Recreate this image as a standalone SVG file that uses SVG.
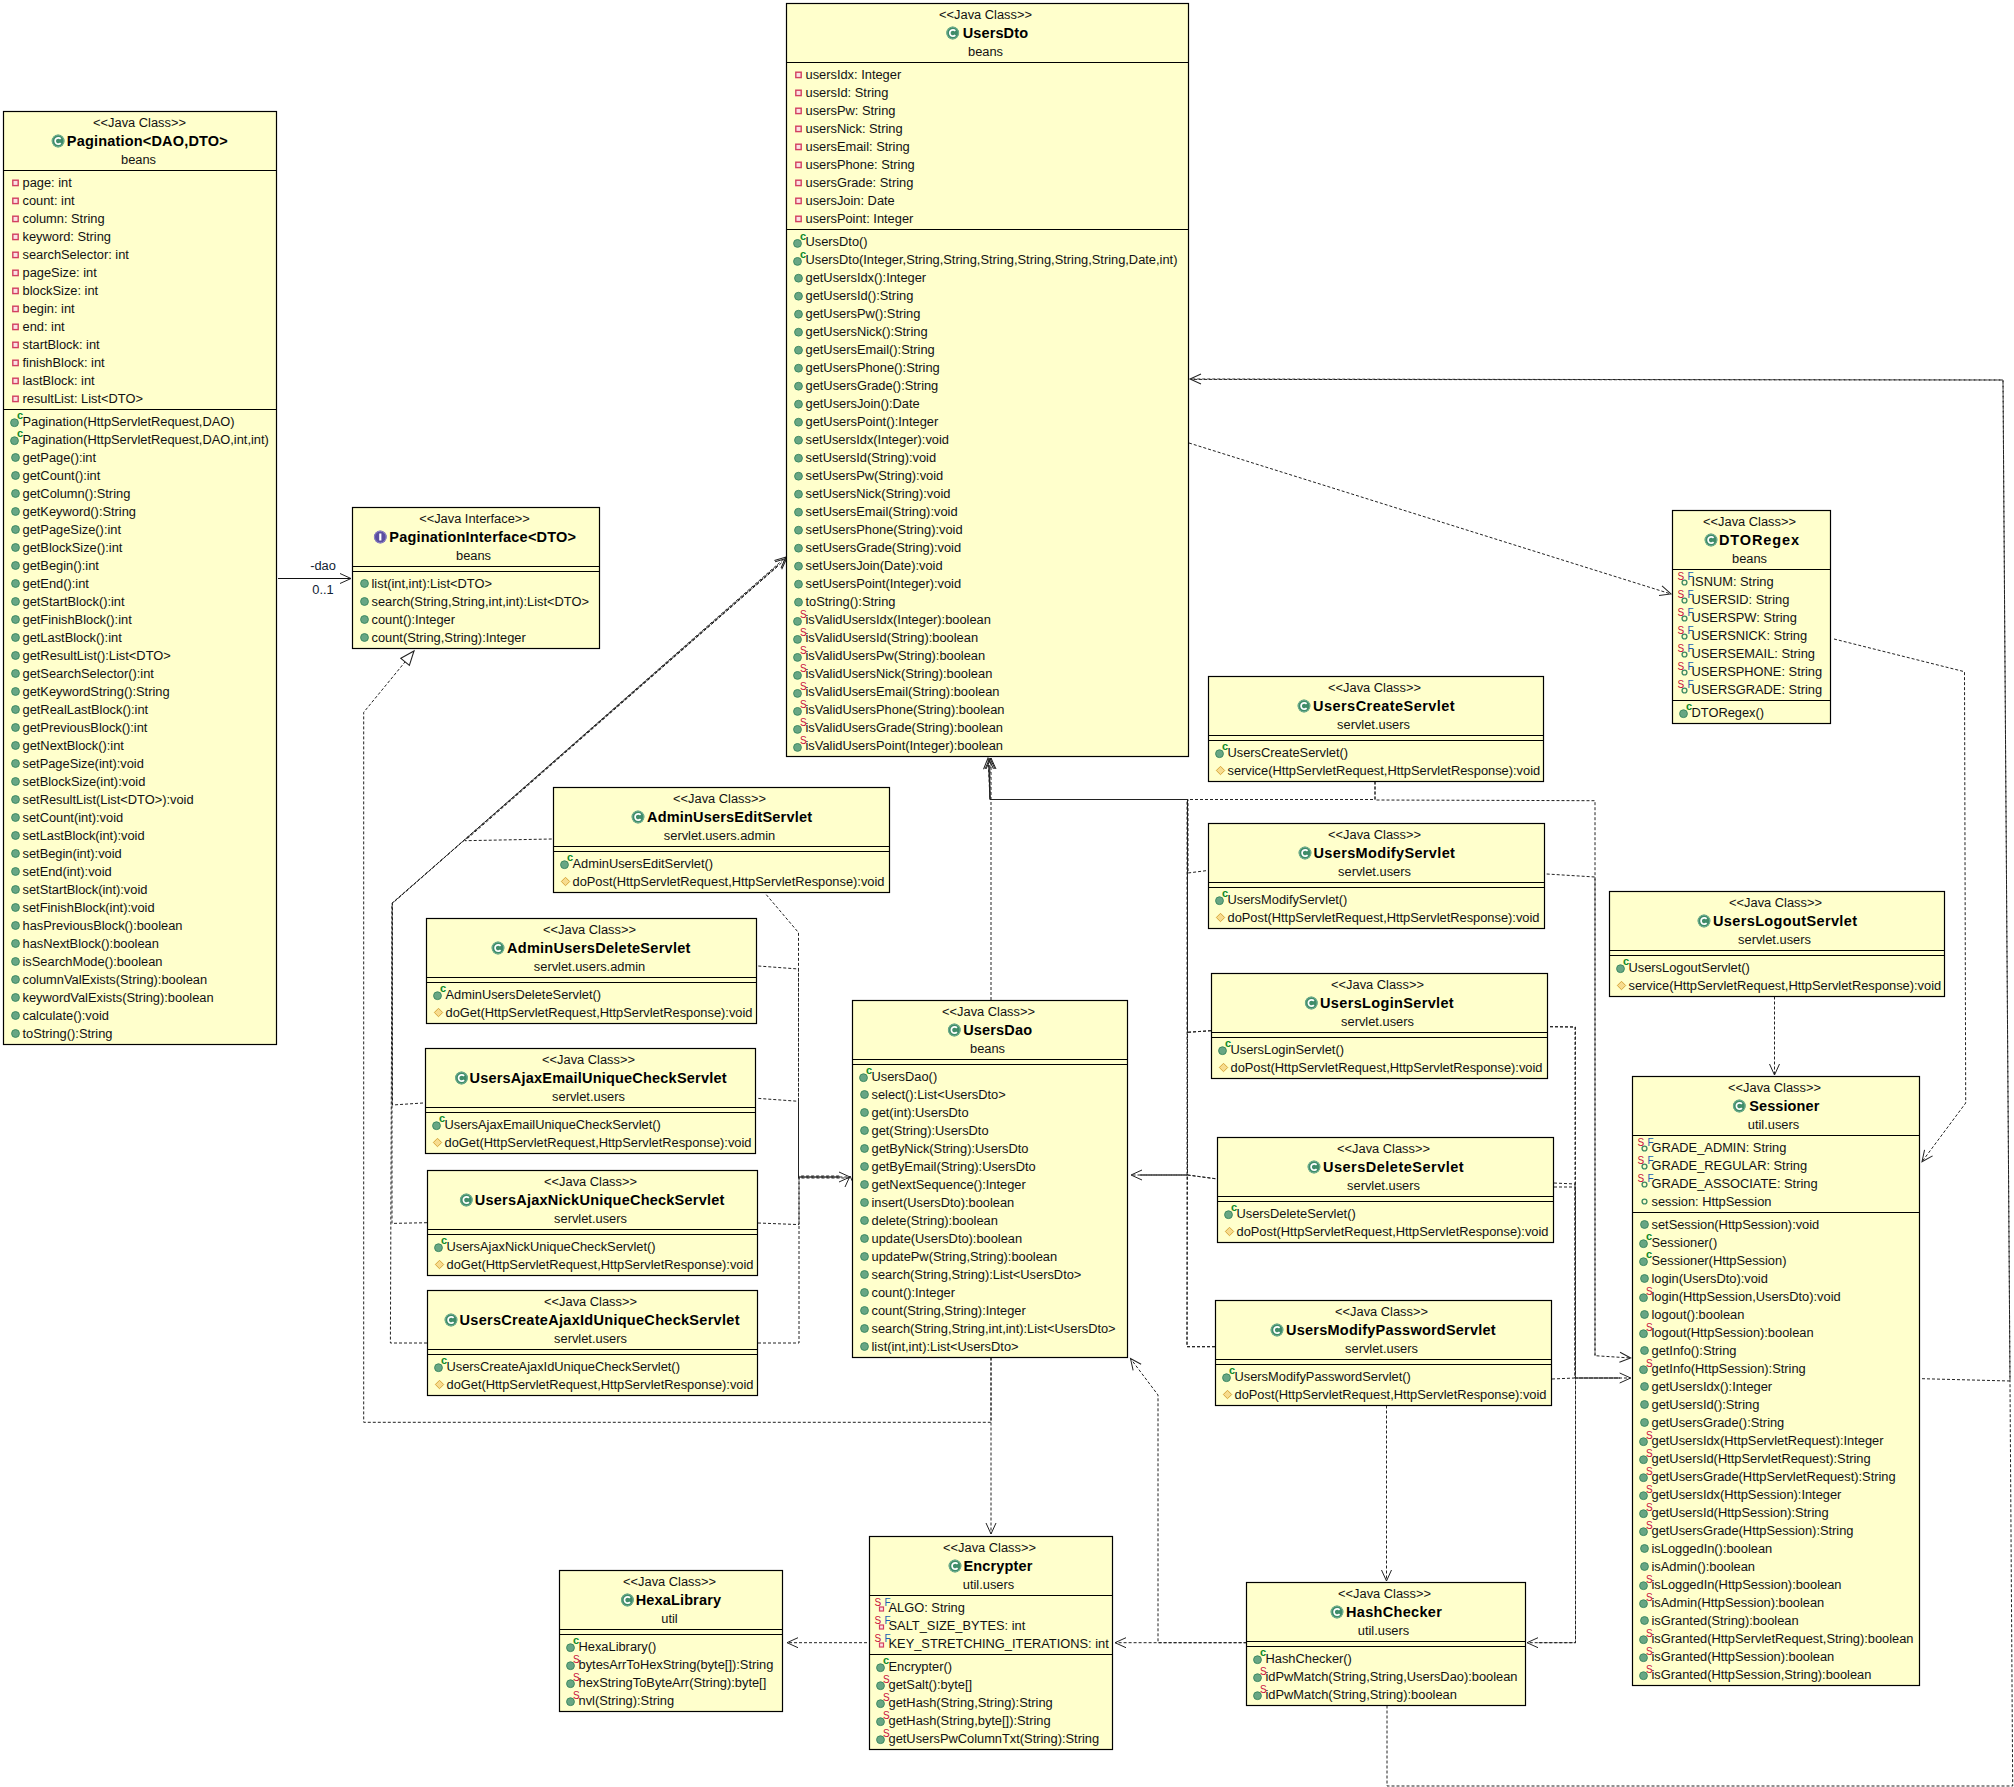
<svg xmlns="http://www.w3.org/2000/svg" width="2014" height="1787" viewBox="0 0 2014 1787">
<style>
text{font-family:"Liberation Sans",Arial,sans-serif;font-size:12.85px;fill:#111}
.b{fill:#ffffcc;stroke:#000;stroke-width:1.2}
.d{stroke:#000;stroke-width:1.2;fill:none}
.h{text-anchor:middle}
.n{font-weight:bold;font-size:14.5px;fill:#000;transform:translateY(-1px)}
.c{fill:none;stroke:#222;stroke-width:1;stroke-dasharray:3 2}
.s{fill:none;stroke:#111;stroke-width:1.1}
.g{fill:#68a684;stroke:#3e8a63;stroke-width:1}
.sc{font-size:11px;font-weight:bold;fill:#0a8a2a}
.sS{font-size:10px;fill:#c8103c}
.sF{font-size:10px;fill:#2060b0}
.l{fill:#123}
</style>
<defs>
<marker id="o" markerUnits="userSpaceOnUse" markerWidth="14" markerHeight="14" refX="11" refY="6" orient="auto" overflow="visible"><path d="M0 1L11 6L0 11" fill="none" stroke="#222" stroke-width="1"/></marker>
<marker id="t" markerUnits="userSpaceOnUse" markerWidth="17" markerHeight="14" refX="14" refY="6" orient="auto" overflow="visible"><path d="M0 .5L14 6L0 11.5Z" fill="#fff" stroke="#222" stroke-width="1.1"/></marker>
<g id="pub"><circle r="3.9" class="g"/></g>
<g id="ctor"><circle cx="-1" cy="1.2" r="3.9" class="g"/><text class="sc" x="1.6" y="-2.5">c</text></g>
<g id="st"><circle cx="-1" cy="1.2" r="3.9" class="g"/><text class="sS" x="1.6" y="-2">S</text></g>
<g id="prot"><path d="M0 -4.2L4.2 0L0 4.2L-4.2 0Z" fill="#f7dc8e" stroke="#d7a63c"/></g>
<g id="pri"><rect x="-2.7" y="-2.7" width="5.4" height="5.4" fill="#fbe0e4" stroke="#d24060" stroke-width="1.4"/></g>
<g id="pf"><circle r="2.4" fill="#ffffcc" stroke="#3e8a63" stroke-width="1.4"/></g>
<g id="sf"><circle r="2.4" cy="1" fill="#ffffcc" stroke="#3e8a63" stroke-width="1.4"/><text class="sS" x="-7" y="-2">S</text><text class="sF" x="3" y="-2">F</text></g>
<g id="psf"><rect x="-2" y="-.5" width="4" height="4" fill="#fbe0e4" stroke="#d24060" stroke-width="1.2"/><text class="sS" x="-7" y="-2">S</text><text class="sF" x="3" y="-2">F</text></g>
<g id="cls"><circle r="6.4" cy="-.5" fill="#3f8c69"/><circle r="5.8" cy="-.5" fill="none" stroke="#7cb89b" stroke-width=".8"/><path d="M2.6 -2.7A3.2 3.2 0 1 0 2.6 1.7" fill="none" stroke="#fff" stroke-width="1.7"/></g>
<g id="ifc"><circle r="6.4" cy="-.5" fill="#5a4ea0"/><circle r="5.8" cy="-.5" fill="none" stroke="#9d93d0" stroke-width=".8"/><rect x="-1.1" y="-4" width="2.2" height="7" fill="#fff"/></g>
</defs>
<rect width="2014" height="1787" fill="#fff"/>

<g id="connectors">
<path class="s" marker-end="url(#o)" d="M278 578.5H351"/>
<path class="c" marker-end="url(#o)" d="M1189 443L1671 594"/>
<path class="c" marker-end="url(#o)" d="M1834 639L1964.5 671.7L1965.7 1103L1922 1161.7"/>
<path class="c" marker-end="url(#o)" d="M1387 1705.5V1786H2012.7L2010 1381L2003 380L1190 379"/>
<path class="c" d="M1922 1378.7L2010 1381L2003 380L1191 379.4"/>
<path class="c" marker-end="url(#o)" d="M991 1357.5V1534"/>
<path class="c" marker-end="url(#t)" d="M991 1357.5V1422.3H363.7V712.3L414 651"/>
<path class="c" marker-end="url(#o)" d="M991 1000V758"/>
<path class="c" marker-end="url(#o)" d="M1375 781.5V799.5H990L988 758"/>
<path class="c" d="M1206 870.7L1188 873V799.5H990L989 765"/>
<path class="c" marker-end="url(#o)" d="M1211 1030.7L1187.5 1032.3V799.5H990L990 758"/>
<path class="c" d="M1215.3 1178.7L1187.5 1175V799.5H990L989 765"/>
<path class="c" d="M1215 1346.7H1187V799.5H990L989 765"/>
<path class="c" marker-end="url(#o)" d="M1215.3 1178.7L1187.5 1175H1131"/>
<path class="c" d="M1215 1346.7H1187L1187.5 1175H1140"/>
<path class="c" d="M1211 1030.7L1187.5 1032.3V1175H1140"/>
<path class="c" marker-end="url(#o)" d="M551.7 839L465 840.7L786.7 558.3"/>
<path class="c" marker-end="url(#o)" d="M423 1103L392.5 1105V903.3L786 557"/>
<path class="c" d="M427 1222.7L392 1223.4V903.3L778 565"/>
<path class="c" d="M427 1343H390.4L392 903.3L778 566"/>
<path class="c" marker-end="url(#o)" d="M766.3 894.7L798.5 932.6V1177H850"/>
<path class="c" d="M758.3 966L798.5 969V1176H840"/>
<path class="c" marker-end="url(#o)" d="M758.3 1098.4L798.5 1101.3V1178H850L850 1176"/>
<path class="c" d="M758 1223L799 1224.6V1177H840"/>
<path class="c" d="M758 1343H799V1177H840"/>
<path class="c" marker-end="url(#o)" d="M1375 781.5V800L1595 800.7V1355.7L1630.7 1358"/>
<path class="c" d="M1546.7 874L1595 877V1355.7"/>
<path class="c" marker-end="url(#o)" d="M1550 1026.7L1575 1027V1378H1630.7"/>
<path class="c" d="M1554 1183L1575 1184V1378H1620"/>
<path class="c" d="M1552 1379L1575 1378H1620"/>
<path class="c" marker-end="url(#o)" d="M1554 1187L1575.5 1187V1642.7H1527"/>
<path class="c" d="M1550 1026.7L1575.5 1027V1642.7H1537"/>
<path class="c" marker-end="url(#o)" d="M1246.6 1642.7H1115"/>
<path class="c" marker-end="url(#o)" d="M1246.6 1642.7H1158V1395L1130.5 1358.5"/>
<path class="c" marker-end="url(#o)" d="M867 1642.7H787"/>
<path class="c" marker-end="url(#o)" d="M1774.5 996.5V1075"/>
<path class="c" marker-end="url(#o)" d="M1386.5 1405.5V1581"/>
<text class="l h" x="323" y="570">-dao</text>
<text class="l h" x="323" y="594">0..1</text>
</g>

<g id="Pagination" transform="translate(3.5,111.5)">
<rect class="b" width="273" height="933"/><path class="d" d="M0 59H273M0 298H273"/>
<text class="h" x="136" y="15.5">&lt;&lt;Java Class&gt;&gt;</text><use href="#cls" x="54.6" y="30"/><text class="n" x="63.3" y="35" textLength="161">Pagination&lt;DAO,DTO&gt;</text><text class="h" x="135" y="52.7">beans</text>
<use href="#pri" x="12" y="71.4"/><text x="19" y="75.5">page: int</text>
<use href="#pri" x="12" y="89.4"/><text x="19" y="93.5">count: int</text>
<use href="#pri" x="12" y="107.4"/><text x="19" y="111.5">column: String</text>
<use href="#pri" x="12" y="125.4"/><text x="19" y="129.5">keyword: String</text>
<use href="#pri" x="12" y="143.4"/><text x="19" y="147.5">searchSelector: int</text>
<use href="#pri" x="12" y="161.4"/><text x="19" y="165.5">pageSize: int</text>
<use href="#pri" x="12" y="179.4"/><text x="19" y="183.5">blockSize: int</text>
<use href="#pri" x="12" y="197.4"/><text x="19" y="201.5">begin: int</text>
<use href="#pri" x="12" y="215.4"/><text x="19" y="219.5">end: int</text>
<use href="#pri" x="12" y="233.4"/><text x="19" y="237.5">startBlock: int</text>
<use href="#pri" x="12" y="251.4"/><text x="19" y="255.5">finishBlock: int</text>
<use href="#pri" x="12" y="269.4"/><text x="19" y="273.5">lastBlock: int</text>
<use href="#pri" x="12" y="287.4"/><text x="19" y="291.5">resultList: List&lt;DTO&gt;</text>
<use href="#ctor" x="12" y="310"/><text x="19" y="314">Pagination(HttpServletRequest,DAO)</text>
<use href="#ctor" x="12" y="328"/><text x="19" y="332">Pagination(HttpServletRequest,DAO,int,int)</text>
<use href="#pub" x="12" y="346"/><text x="19" y="350">getPage():int</text>
<use href="#pub" x="12" y="364"/><text x="19" y="368">getCount():int</text>
<use href="#pub" x="12" y="382"/><text x="19" y="386">getColumn():String</text>
<use href="#pub" x="12" y="400"/><text x="19" y="404">getKeyword():String</text>
<use href="#pub" x="12" y="418"/><text x="19" y="422">getPageSize():int</text>
<use href="#pub" x="12" y="436"/><text x="19" y="440">getBlockSize():int</text>
<use href="#pub" x="12" y="454"/><text x="19" y="458">getBegin():int</text>
<use href="#pub" x="12" y="472"/><text x="19" y="476">getEnd():int</text>
<use href="#pub" x="12" y="490"/><text x="19" y="494">getStartBlock():int</text>
<use href="#pub" x="12" y="508"/><text x="19" y="512">getFinishBlock():int</text>
<use href="#pub" x="12" y="526"/><text x="19" y="530">getLastBlock():int</text>
<use href="#pub" x="12" y="544"/><text x="19" y="548">getResultList():List&lt;DTO&gt;</text>
<use href="#pub" x="12" y="562"/><text x="19" y="566">getSearchSelector():int</text>
<use href="#pub" x="12" y="580"/><text x="19" y="584">getKeywordString():String</text>
<use href="#pub" x="12" y="598"/><text x="19" y="602">getRealLastBlock():int</text>
<use href="#pub" x="12" y="616"/><text x="19" y="620">getPreviousBlock():int</text>
<use href="#pub" x="12" y="634"/><text x="19" y="638">getNextBlock():int</text>
<use href="#pub" x="12" y="652"/><text x="19" y="656">setPageSize(int):void</text>
<use href="#pub" x="12" y="670"/><text x="19" y="674">setBlockSize(int):void</text>
<use href="#pub" x="12" y="688"/><text x="19" y="692">setResultList(List&lt;DTO&gt;):void</text>
<use href="#pub" x="12" y="706"/><text x="19" y="710">setCount(int):void</text>
<use href="#pub" x="12" y="724"/><text x="19" y="728">setLastBlock(int):void</text>
<use href="#pub" x="12" y="742"/><text x="19" y="746">setBegin(int):void</text>
<use href="#pub" x="12" y="760"/><text x="19" y="764">setEnd(int):void</text>
<use href="#pub" x="12" y="778"/><text x="19" y="782">setStartBlock(int):void</text>
<use href="#pub" x="12" y="796"/><text x="19" y="800">setFinishBlock(int):void</text>
<use href="#pub" x="12" y="814"/><text x="19" y="818">hasPreviousBlock():boolean</text>
<use href="#pub" x="12" y="832"/><text x="19" y="836">hasNextBlock():boolean</text>
<use href="#pub" x="12" y="850"/><text x="19" y="854">isSearchMode():boolean</text>
<use href="#pub" x="12" y="868"/><text x="19" y="872">columnValExists(String):boolean</text>
<use href="#pub" x="12" y="886"/><text x="19" y="890">keywordValExists(String):boolean</text>
<use href="#pub" x="12" y="904"/><text x="19" y="908">calculate():void</text>
<use href="#pub" x="12" y="922"/><text x="19" y="926">toString():String</text>
</g>

<g id="PaginationInterface" transform="translate(352.5,507.5)">
<rect class="b" width="247" height="141"/><path class="d" d="M0 59H247M0 64H247"/>
<text class="h" x="122" y="15.5">&lt;&lt;Java Interface&gt;&gt;</text><use href="#ifc" x="27.8" y="30"/><text class="n" x="36.8" y="35" textLength="186.7">PaginationInterface&lt;DTO&gt;</text><text class="h" x="121" y="52.7">beans</text>
<use href="#pub" x="12" y="76"/><text x="19" y="80">list(int,int):List&lt;DTO&gt;</text>
<use href="#pub" x="12" y="94"/><text x="19" y="98">search(String,String,int,int):List&lt;DTO&gt;</text>
<use href="#pub" x="12" y="112"/><text x="19" y="116">count():Integer</text>
<use href="#pub" x="12" y="130"/><text x="19" y="134">count(String,String):Integer</text>
</g>

<g id="UsersDto" transform="translate(786.5,3.5)">
<rect class="b" width="402" height="753"/><path class="d" d="M0 59H402M0 226H402"/>
<text class="h" x="199" y="15.5">&lt;&lt;Java Class&gt;&gt;</text><use href="#cls" x="166.2" y="30"/><text class="n" x="176.2" y="35" textLength="65.3">UsersDto</text><text class="h" x="199" y="52.7">beans</text>
<use href="#pri" x="12" y="71.4"/><text x="19" y="75.5">usersIdx: Integer</text>
<use href="#pri" x="12" y="89.4"/><text x="19" y="93.5">usersId: String</text>
<use href="#pri" x="12" y="107.4"/><text x="19" y="111.5">usersPw: String</text>
<use href="#pri" x="12" y="125.4"/><text x="19" y="129.5">usersNick: String</text>
<use href="#pri" x="12" y="143.4"/><text x="19" y="147.5">usersEmail: String</text>
<use href="#pri" x="12" y="161.4"/><text x="19" y="165.5">usersPhone: String</text>
<use href="#pri" x="12" y="179.4"/><text x="19" y="183.5">usersGrade: String</text>
<use href="#pri" x="12" y="197.4"/><text x="19" y="201.5">usersJoin: Date</text>
<use href="#pri" x="12" y="215.4"/><text x="19" y="219.5">usersPoint: Integer</text>
<use href="#ctor" x="12" y="238.7"/><text x="19" y="242.7">UsersDto()</text>
<use href="#ctor" x="12" y="256.7"/><text x="19" y="260.7">UsersDto(Integer,String,String,String,String,String,String,Date,int)</text>
<use href="#pub" x="12" y="274.7"/><text x="19" y="278.7">getUsersIdx():Integer</text>
<use href="#pub" x="12" y="292.7"/><text x="19" y="296.7">getUsersId():String</text>
<use href="#pub" x="12" y="310.7"/><text x="19" y="314.7">getUsersPw():String</text>
<use href="#pub" x="12" y="328.7"/><text x="19" y="332.7">getUsersNick():String</text>
<use href="#pub" x="12" y="346.7"/><text x="19" y="350.7">getUsersEmail():String</text>
<use href="#pub" x="12" y="364.7"/><text x="19" y="368.7">getUsersPhone():String</text>
<use href="#pub" x="12" y="382.7"/><text x="19" y="386.7">getUsersGrade():String</text>
<use href="#pub" x="12" y="400.7"/><text x="19" y="404.7">getUsersJoin():Date</text>
<use href="#pub" x="12" y="418.7"/><text x="19" y="422.7">getUsersPoint():Integer</text>
<use href="#pub" x="12" y="436.7"/><text x="19" y="440.7">setUsersIdx(Integer):void</text>
<use href="#pub" x="12" y="454.7"/><text x="19" y="458.7">setUsersId(String):void</text>
<use href="#pub" x="12" y="472.7"/><text x="19" y="476.7">setUsersPw(String):void</text>
<use href="#pub" x="12" y="490.7"/><text x="19" y="494.7">setUsersNick(String):void</text>
<use href="#pub" x="12" y="508.7"/><text x="19" y="512.7">setUsersEmail(String):void</text>
<use href="#pub" x="12" y="526.7"/><text x="19" y="530.7">setUsersPhone(String):void</text>
<use href="#pub" x="12" y="544.7"/><text x="19" y="548.7">setUsersGrade(String):void</text>
<use href="#pub" x="12" y="562.7"/><text x="19" y="566.7">setUsersJoin(Date):void</text>
<use href="#pub" x="12" y="580.7"/><text x="19" y="584.7">setUsersPoint(Integer):void</text>
<use href="#pub" x="12" y="598.7"/><text x="19" y="602.7">toString():String</text>
<use href="#st" x="12" y="616.7"/><text x="19" y="620.7">isValidUsersIdx(Integer):boolean</text>
<use href="#st" x="12" y="634.7"/><text x="19" y="638.7">isValidUsersId(String):boolean</text>
<use href="#st" x="12" y="652.7"/><text x="19" y="656.7">isValidUsersPw(String):boolean</text>
<use href="#st" x="12" y="670.7"/><text x="19" y="674.7">isValidUsersNick(String):boolean</text>
<use href="#st" x="12" y="688.7"/><text x="19" y="692.7">isValidUsersEmail(String):boolean</text>
<use href="#st" x="12" y="706.7"/><text x="19" y="710.7">isValidUsersPhone(String):boolean</text>
<use href="#st" x="12" y="724.7"/><text x="19" y="728.7">isValidUsersGrade(String):boolean</text>
<use href="#st" x="12" y="742.7"/><text x="19" y="746.7">isValidUsersPoint(Integer):boolean</text>
</g>

<g id="DTORegex" transform="translate(1672.5,510.5)">
<rect class="b" width="158" height="213"/><path class="d" d="M0 59H158M0 190H158"/>
<text class="h" x="77" y="15.5">&lt;&lt;Java Class&gt;&gt;</text><use href="#cls" x="38.5" y="30"/><text class="n" x="46.5" y="35" textLength="80">DTORegex</text><text class="h" x="77" y="52.7">beans</text>
<use href="#sf" x="12" y="71"/><text x="19" y="75">ISNUM: String</text>
<use href="#sf" x="12" y="89"/><text x="19" y="93">USERSID: String</text>
<use href="#sf" x="12" y="107"/><text x="19" y="111">USERSPW: String</text>
<use href="#sf" x="12" y="125"/><text x="19" y="129">USERSNICK: String</text>
<use href="#sf" x="12" y="143"/><text x="19" y="147">USERSEMAIL: String</text>
<use href="#sf" x="12" y="161"/><text x="19" y="165">USERSPHONE: String</text>
<use href="#sf" x="12" y="179"/><text x="19" y="183">USERSGRADE: String</text>
<use href="#ctor" x="12" y="202"/><text x="19" y="206">DTORegex()</text>
</g>

<g id="UsersCreateServlet" transform="translate(1208.5,676.5)">
<rect class="b" width="335" height="105"/><path class="d" d="M0 59H335M0 64H335"/>
<text class="h" x="166" y="15.5">&lt;&lt;Java Class&gt;&gt;</text><use href="#cls" x="95.5" y="30"/><text class="n" x="104.5" y="35" textLength="141.7">UsersCreateServlet</text><text class="h" x="165" y="52.7">servlet.users</text>
<use href="#ctor" x="12" y="76"/><text x="19" y="80">UsersCreateServlet()</text>
<use href="#prot" x="12" y="94"/><text x="19" y="98">service(HttpServletRequest,HttpServletResponse):void</text>
</g>

<g id="UsersModifyServlet" transform="translate(1208.5,823.5)">
<rect class="b" width="336" height="105"/><path class="d" d="M0 59H336M0 64H336"/>
<text class="h" x="166" y="15.5">&lt;&lt;Java Class&gt;&gt;</text><use href="#cls" x="96.5" y="30"/><text class="n" x="105" y="35" textLength="141.4">UsersModifyServlet</text><text class="h" x="166" y="52.7">servlet.users</text>
<use href="#ctor" x="12" y="76"/><text x="19" y="80">UsersModifyServlet()</text>
<use href="#prot" x="12" y="94"/><text x="19" y="98">doPost(HttpServletRequest,HttpServletResponse):void</text>
</g>

<g id="UsersLogoutServlet" transform="translate(1609.5,891.5)">
<rect class="b" width="335" height="105"/><path class="d" d="M0 59H335M0 64H335"/>
<text class="h" x="166" y="15.5">&lt;&lt;Java Class&gt;&gt;</text><use href="#cls" x="94.5" y="30"/><text class="n" x="103.5" y="35" textLength="144">UsersLogoutServlet</text><text class="h" x="165" y="52.7">servlet.users</text>
<use href="#ctor" x="12" y="76"/><text x="19" y="80">UsersLogoutServlet()</text>
<use href="#prot" x="12" y="94"/><text x="19" y="98">service(HttpServletRequest,HttpServletResponse):void</text>
</g>

<g id="UsersLoginServlet" transform="translate(1211.5,973.5)">
<rect class="b" width="336" height="105"/><path class="d" d="M0 59H336M0 64H336"/>
<text class="h" x="166" y="15.5">&lt;&lt;Java Class&gt;&gt;</text><use href="#cls" x="99.8" y="30"/><text class="n" x="108.5" y="35" textLength="133.7">UsersLoginServlet</text><text class="h" x="166" y="52.7">servlet.users</text>
<use href="#ctor" x="12" y="76"/><text x="19" y="80">UsersLoginServlet()</text>
<use href="#prot" x="12" y="94"/><text x="19" y="98">doPost(HttpServletRequest,HttpServletResponse):void</text>
</g>

<g id="UsersDeleteServlet" transform="translate(1217.5,1137.5)">
<rect class="b" width="336" height="105"/><path class="d" d="M0 59H336M0 64H336"/>
<text class="h" x="166" y="15.5">&lt;&lt;Java Class&gt;&gt;</text><use href="#cls" x="96.5" y="30"/><text class="n" x="105.5" y="35" textLength="140.7">UsersDeleteServlet</text><text class="h" x="166" y="52.7">servlet.users</text>
<use href="#ctor" x="12" y="76"/><text x="19" y="80">UsersDeleteServlet()</text>
<use href="#prot" x="12" y="94"/><text x="19" y="98">doPost(HttpServletRequest,HttpServletResponse):void</text>
</g>

<g id="UsersModifyPasswordServlet" transform="translate(1215.5,1300.5)">
<rect class="b" width="336" height="105"/><path class="d" d="M0 59H336M0 64H336"/>
<text class="h" x="166" y="15.5">&lt;&lt;Java Class&gt;&gt;</text><use href="#cls" x="61.5" y="30"/><text class="n" x="70.5" y="35" textLength="209.7">UsersModifyPasswordServlet</text><text class="h" x="166" y="52.7">servlet.users</text>
<use href="#ctor" x="12" y="76"/><text x="19" y="80">UsersModifyPasswordServlet()</text>
<use href="#prot" x="12" y="94"/><text x="19" y="98">doPost(HttpServletRequest,HttpServletResponse):void</text>
</g>

<g id="AdminUsersEditServlet" transform="translate(553.5,787.5)">
<rect class="b" width="336" height="105"/><path class="d" d="M0 59H336M0 64H336"/>
<text class="h" x="166" y="15.5">&lt;&lt;Java Class&gt;&gt;</text><use href="#cls" x="84.5" y="30"/><text class="n" x="93.5" y="35" textLength="165">AdminUsersEditServlet</text><text class="h" x="166" y="52.7">servlet.users.admin</text>
<use href="#ctor" x="12" y="76"/><text x="19" y="80">AdminUsersEditServlet()</text>
<use href="#prot" x="12" y="94"/><text x="19" y="98">doPost(HttpServletRequest,HttpServletResponse):void</text>
</g>

<g id="AdminUsersDeleteServlet" transform="translate(426.5,918.5)">
<rect class="b" width="330" height="105"/><path class="d" d="M0 59H330M0 64H330"/>
<text class="h" x="163" y="15.5">&lt;&lt;Java Class&gt;&gt;</text><use href="#cls" x="71.5" y="30"/><text class="n" x="80.5" y="35" textLength="183.4">AdminUsersDeleteServlet</text><text class="h" x="163" y="52.7">servlet.users.admin</text>
<use href="#ctor" x="12" y="76"/><text x="19" y="80">AdminUsersDeleteServlet()</text>
<use href="#prot" x="12" y="94"/><text x="19" y="98">doGet(HttpServletRequest,HttpServletResponse):void</text>
</g>

<g id="UsersAjaxEmailUniqueCheckServlet" transform="translate(425.5,1048.5)">
<rect class="b" width="330" height="105"/><path class="d" d="M0 59H330M0 64H330"/>
<text class="h" x="163" y="15.5">&lt;&lt;Java Class&gt;&gt;</text><use href="#cls" x="36" y="30"/><text class="n" x="44" y="35" textLength="257">UsersAjaxEmailUniqueCheckServlet</text><text class="h" x="163" y="52.7">servlet.users</text>
<use href="#ctor" x="12" y="76"/><text x="19" y="80">UsersAjaxEmailUniqueCheckServlet()</text>
<use href="#prot" x="12" y="94"/><text x="19" y="98">doGet(HttpServletRequest,HttpServletResponse):void</text>
</g>

<g id="UsersAjaxNickUniqueCheckServlet" transform="translate(427.5,1170.5)">
<rect class="b" width="330" height="105"/><path class="d" d="M0 59H330M0 64H330"/>
<text class="h" x="163" y="15.5">&lt;&lt;Java Class&gt;&gt;</text><use href="#cls" x="38.8" y="30"/><text class="n" x="47.3" y="35" textLength="249.6">UsersAjaxNickUniqueCheckServlet</text><text class="h" x="163" y="52.7">servlet.users</text>
<use href="#ctor" x="12" y="76"/><text x="19" y="80">UsersAjaxNickUniqueCheckServlet()</text>
<use href="#prot" x="12" y="94"/><text x="19" y="98">doGet(HttpServletRequest,HttpServletResponse):void</text>
</g>

<g id="UsersCreateAjaxIdUniqueCheckServlet" transform="translate(427.5,1290.5)">
<rect class="b" width="330" height="105"/><path class="d" d="M0 59H330M0 64H330"/>
<text class="h" x="163" y="15.5">&lt;&lt;Java Class&gt;&gt;</text><use href="#cls" x="23.5" y="30"/><text class="n" x="32" y="35" textLength="280">UsersCreateAjaxIdUniqueCheckServlet</text><text class="h" x="163" y="52.7">servlet.users</text>
<use href="#ctor" x="12" y="76"/><text x="19" y="80">UsersCreateAjaxIdUniqueCheckServlet()</text>
<use href="#prot" x="12" y="94"/><text x="19" y="98">doGet(HttpServletRequest,HttpServletResponse):void</text>
</g>

<g id="UsersDao" transform="translate(852.5,1000.5)">
<rect class="b" width="275" height="357"/><path class="d" d="M0 59H275M0 64H275"/>
<text class="h" x="136" y="15.5">&lt;&lt;Java Class&gt;&gt;</text><use href="#cls" x="101.8" y="30"/><text class="n" x="110.7" y="35" textLength="68.8">UsersDao</text><text class="h" x="135" y="52.7">beans</text>
<use href="#ctor" x="12" y="76"/><text x="19" y="80">UsersDao()</text>
<use href="#pub" x="12" y="94"/><text x="19" y="98">select():List&lt;UsersDto&gt;</text>
<use href="#pub" x="12" y="112"/><text x="19" y="116">get(int):UsersDto</text>
<use href="#pub" x="12" y="130"/><text x="19" y="134">get(String):UsersDto</text>
<use href="#pub" x="12" y="148"/><text x="19" y="152">getByNick(String):UsersDto</text>
<use href="#pub" x="12" y="166"/><text x="19" y="170">getByEmail(String):UsersDto</text>
<use href="#pub" x="12" y="184"/><text x="19" y="188">getNextSequence():Integer</text>
<use href="#pub" x="12" y="202"/><text x="19" y="206">insert(UsersDto):boolean</text>
<use href="#pub" x="12" y="220"/><text x="19" y="224">delete(String):boolean</text>
<use href="#pub" x="12" y="238"/><text x="19" y="242">update(UsersDto):boolean</text>
<use href="#pub" x="12" y="256"/><text x="19" y="260">updatePw(String,String):boolean</text>
<use href="#pub" x="12" y="274"/><text x="19" y="278">search(String,String):List&lt;UsersDto&gt;</text>
<use href="#pub" x="12" y="292"/><text x="19" y="296">count():Integer</text>
<use href="#pub" x="12" y="310"/><text x="19" y="314">count(String,String):Integer</text>
<use href="#pub" x="12" y="328"/><text x="19" y="332">search(String,String,int,int):List&lt;UsersDto&gt;</text>
<use href="#pub" x="12" y="346"/><text x="19" y="350">list(int,int):List&lt;UsersDto&gt;</text>
</g>

<g id="Sessioner" transform="translate(1632.5,1076.5)">
<rect class="b" width="287" height="609"/><path class="d" d="M0 59H287M0 136H287"/>
<text class="h" x="142" y="15.5">&lt;&lt;Java Class&gt;&gt;</text><use href="#cls" x="106.8" y="30"/><text class="n" x="116.8" y="35" textLength="70">Sessioner</text><text class="h" x="141" y="52.7">util.users</text>
<use href="#sf" x="12" y="71"/><text x="19" y="75">GRADE_ADMIN: String</text>
<use href="#sf" x="12" y="89"/><text x="19" y="93">GRADE_REGULAR: String</text>
<use href="#sf" x="12" y="107"/><text x="19" y="111">GRADE_ASSOCIATE: String</text>
<use href="#pf" x="12" y="125"/><text x="19" y="129">session: HttpSession</text>
<use href="#pub" x="12" y="148"/><text x="19" y="152">setSession(HttpSession):void</text>
<use href="#ctor" x="12" y="166"/><text x="19" y="170">Sessioner()</text>
<use href="#ctor" x="12" y="184"/><text x="19" y="188">Sessioner(HttpSession)</text>
<use href="#pub" x="12" y="202"/><text x="19" y="206">login(UsersDto):void</text>
<use href="#st" x="12" y="220"/><text x="19" y="224">login(HttpSession,UsersDto):void</text>
<use href="#pub" x="12" y="238"/><text x="19" y="242">logout():boolean</text>
<use href="#st" x="12" y="256"/><text x="19" y="260">logout(HttpSession):boolean</text>
<use href="#pub" x="12" y="274"/><text x="19" y="278">getInfo():String</text>
<use href="#st" x="12" y="292"/><text x="19" y="296">getInfo(HttpSession):String</text>
<use href="#pub" x="12" y="310"/><text x="19" y="314">getUsersIdx():Integer</text>
<use href="#pub" x="12" y="328"/><text x="19" y="332">getUsersId():String</text>
<use href="#pub" x="12" y="346"/><text x="19" y="350">getUsersGrade():String</text>
<use href="#st" x="12" y="364"/><text x="19" y="368">getUsersIdx(HttpServletRequest):Integer</text>
<use href="#st" x="12" y="382"/><text x="19" y="386">getUsersId(HttpServletRequest):String</text>
<use href="#st" x="12" y="400"/><text x="19" y="404">getUsersGrade(HttpServletRequest):String</text>
<use href="#st" x="12" y="418"/><text x="19" y="422">getUsersIdx(HttpSession):Integer</text>
<use href="#st" x="12" y="436"/><text x="19" y="440">getUsersId(HttpSession):String</text>
<use href="#st" x="12" y="454"/><text x="19" y="458">getUsersGrade(HttpSession):String</text>
<use href="#pub" x="12" y="472"/><text x="19" y="476">isLoggedIn():boolean</text>
<use href="#pub" x="12" y="490"/><text x="19" y="494">isAdmin():boolean</text>
<use href="#st" x="12" y="508"/><text x="19" y="512">isLoggedIn(HttpSession):boolean</text>
<use href="#st" x="12" y="526"/><text x="19" y="530">isAdmin(HttpSession):boolean</text>
<use href="#pub" x="12" y="544"/><text x="19" y="548">isGranted(String):boolean</text>
<use href="#st" x="12" y="562"/><text x="19" y="566">isGranted(HttpServletRequest,String):boolean</text>
<use href="#st" x="12" y="580"/><text x="19" y="584">isGranted(HttpSession):boolean</text>
<use href="#st" x="12" y="598"/><text x="19" y="602">isGranted(HttpSession,String):boolean</text>
</g>

<g id="HexaLibrary" transform="translate(559.5,1570.5)">
<rect class="b" width="223" height="141"/><path class="d" d="M0 59H223M0 64H223"/>
<text class="h" x="110" y="15.5">&lt;&lt;Java Class&gt;&gt;</text><use href="#cls" x="67.9" y="30"/><text class="n" x="76.2" y="35" textLength="85.3">HexaLibrary</text><text class="h" x="110" y="52.7">util</text>
<use href="#ctor" x="12" y="76"/><text x="19" y="80">HexaLibrary()</text>
<use href="#st" x="12" y="94"/><text x="19" y="98">bytesArrToHexString(byte[]):String</text>
<use href="#st" x="12" y="112"/><text x="19" y="116">hexStringToByteArr(String):byte[]</text>
<use href="#st" x="12" y="130"/><text x="19" y="134">nvl(String):String</text>
</g>

<g id="Encrypter" transform="translate(869.5,1536.5)">
<rect class="b" width="243" height="213"/><path class="d" d="M0 59H243M0 118H243"/>
<text class="h" x="120" y="15.5">&lt;&lt;Java Class&gt;&gt;</text><use href="#cls" x="85.5" y="30"/><text class="n" x="94" y="35" textLength="68.8">Encrypter</text><text class="h" x="119" y="52.7">util.users</text>
<use href="#psf" x="12" y="71"/><text x="19" y="75">ALGO: String</text>
<use href="#psf" x="12" y="89"/><text x="19" y="93">SALT_SIZE_BYTES: int</text>
<use href="#psf" x="12" y="107"/><text x="19" y="111">KEY_STRETCHING_ITERATIONS: int</text>
<use href="#ctor" x="12" y="130"/><text x="19" y="134">Encrypter()</text>
<use href="#st" x="12" y="148"/><text x="19" y="152">getSalt():byte[]</text>
<use href="#st" x="12" y="166"/><text x="19" y="170">getHash(String,String):String</text>
<use href="#st" x="12" y="184"/><text x="19" y="188">getHash(String,byte[]):String</text>
<use href="#st" x="12" y="202"/><text x="19" y="206">getUsersPwColumnTxt(String):String</text>
</g>

<g id="HashChecker" transform="translate(1246.5,1582.5)">
<rect class="b" width="279" height="123"/><path class="d" d="M0 59H279M0 64H279"/>
<text class="h" x="138" y="15.5">&lt;&lt;Java Class&gt;&gt;</text><use href="#cls" x="90.5" y="30"/><text class="n" x="99.5" y="35" textLength="95.8">HashChecker</text><text class="h" x="137" y="52.7">util.users</text>
<use href="#ctor" x="12" y="76"/><text x="19" y="80">HashChecker()</text>
<use href="#st" x="12" y="94"/><text x="19" y="98">idPwMatch(String,String,UsersDao):boolean</text>
<use href="#st" x="12" y="112"/><text x="19" y="116">idPwMatch(String,String):boolean</text>
</g>
</svg>
